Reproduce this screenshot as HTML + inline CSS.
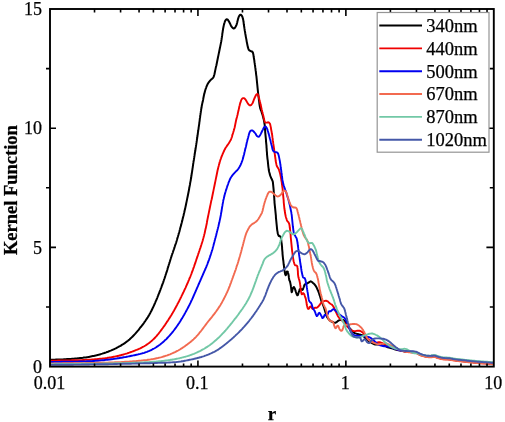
<!DOCTYPE html>
<html><head><meta charset="utf-8"><title>Kernel Function</title>
<style>
html,body{margin:0;padding:0;background:#fff;}
body{width:505px;height:422px;overflow:hidden;}
svg{display:block;}
text{font-family:"Liberation Serif","Times New Roman",serif;fill:#000;stroke:#000;stroke-width:0.25px;}
</style></head><body>
<svg width="505" height="422" viewBox="0 0 505 422">
<rect x="0" y="0" width="505" height="422" fill="#fff"/>
<defs><clipPath id="cp"><rect x="50.0" y="9.0" width="443.8" height="357.6"/></clipPath></defs>
<g clip-path="url(#cp)" fill="none" stroke-linejoin="round" stroke-linecap="round">
<path d="M50.0,359.8 51.0,359.8 52.0,359.7 53.0,359.7 54.0,359.7 55.0,359.7 56.0,359.6 57.0,359.6 58.0,359.6 59.0,359.5 60.0,359.5 61.0,359.4 62.0,359.4 63.0,359.4 64.0,359.3 65.0,359.3 66.0,359.2 67.0,359.1 68.0,359.1 69.0,359.0 70.0,359.0 71.0,358.9 72.0,358.8 73.0,358.7 74.0,358.7 75.0,358.6 76.0,358.5 77.0,358.4 77.9,358.3 78.9,358.2 79.9,358.1 80.9,358.0 81.9,357.9 82.9,357.8 83.9,357.6 84.9,357.5 85.9,357.4 86.9,357.2 87.9,357.1 88.8,356.9 89.8,356.7 90.8,356.5 91.8,356.3 92.8,356.1 93.7,355.9 94.7,355.7 95.7,355.5 96.6,355.3 97.6,355.0 98.6,354.8 99.5,354.5 100.5,354.2 101.4,353.9 102.4,353.6 103.3,353.3 104.3,353.0 105.2,352.7 106.2,352.4 107.1,352.0 108.0,351.7 109.0,351.3 109.9,350.9 110.8,350.6 111.7,350.2 112.6,349.8 113.6,349.4 114.5,349.0 115.4,348.5 116.3,348.1 117.1,347.6 118.0,347.2 118.9,346.7 119.8,346.2 120.6,345.8 121.5,345.2 122.3,344.7 123.2,344.2 124.0,343.7 124.8,343.1 125.6,342.5 126.4,341.9 127.2,341.3 128.0,340.7 128.7,340.1 129.5,339.5 130.2,338.8 131.0,338.1 131.7,337.4 132.4,336.7 133.1,336.0 133.8,335.3 134.4,334.6 135.1,333.9 135.8,333.1 136.4,332.4 137.1,331.6 137.7,330.9 138.4,330.1 139.0,329.3 139.6,328.5 140.2,327.7 140.8,327.0 141.5,326.2 142.1,325.4 142.7,324.6 143.3,323.8 143.9,323.0 144.4,322.2 145.0,321.4 145.6,320.5 146.1,319.7 146.7,318.9 147.2,318.1 147.8,317.2 148.3,316.4 148.8,315.5 149.3,314.7 149.8,313.8 150.3,312.9 150.7,312.1 151.2,311.2 151.7,310.3 152.1,309.4 152.5,308.5 153.0,307.6 153.4,306.7 153.8,305.8 154.2,304.9 154.6,304.0 155.0,303.1 155.4,302.1 155.8,301.2 156.2,300.3 156.6,299.4 157.0,298.5 157.4,297.5 157.7,296.6 158.1,295.7 158.5,294.7 158.8,293.8 159.2,292.9 159.6,292.0 159.9,291.0 160.3,290.1 160.6,289.2 161.0,288.2 161.4,287.3 161.7,286.3 162.0,285.4 162.4,284.5 162.7,283.5 163.1,282.6 163.4,281.6 163.7,280.7 164.0,279.7 164.4,278.8 164.7,277.9 165.0,276.9 165.3,276.0 165.6,275.0 165.9,274.1 166.2,273.1 166.6,272.2 166.9,271.2 167.2,270.2 167.5,269.3 167.7,268.3 168.0,267.4 168.3,266.4 168.6,265.5 168.9,264.5 169.2,263.6 169.5,262.6 169.8,261.7 170.1,260.7 170.4,259.7 170.7,258.8 171.0,257.8 171.3,256.9 171.6,255.9 171.9,255.0 172.2,254.0 172.6,253.1 172.9,252.2 173.2,251.2 173.5,250.3 173.9,249.3 174.2,248.4 174.5,247.4 174.8,246.5 175.1,245.5 175.4,244.6 175.8,243.6 176.1,242.7 176.4,241.7 176.7,240.8 177.0,239.8 177.2,238.9 177.5,237.9 177.8,237.0 178.1,236.0 178.4,235.0 178.6,234.1 178.9,233.1 179.2,232.2 179.5,231.2 179.7,230.2 180.0,229.3 180.2,228.3 180.5,227.3 180.8,226.4 181.0,225.4 181.3,224.4 181.5,223.5 181.8,222.5 182.0,221.5 182.3,220.6 182.5,219.6 182.7,218.6 183.0,217.6 183.2,216.7 183.5,215.7 183.7,214.7 183.9,213.8 184.2,212.8 184.4,211.8 184.6,210.8 184.8,209.9 185.1,208.9 185.3,207.9 185.5,206.9 185.7,206.0 185.9,205.0 186.1,204.0 186.3,203.0 186.5,202.1 186.7,201.1 186.9,200.1 187.1,199.1 187.3,198.1 187.5,197.2 187.7,196.2 187.9,195.2 188.1,194.2 188.3,193.2 188.5,192.2 188.7,191.3 188.9,190.3 189.1,189.3 189.2,188.3 189.4,187.3 189.6,186.4 189.8,185.4 190.0,184.4 190.1,183.4 190.3,182.4 190.5,181.4 190.7,180.5 190.8,179.5 191.0,178.5 191.2,177.5 191.3,176.5 191.5,175.5 191.6,174.5 191.8,173.5 191.9,172.6 192.1,171.6 192.2,170.6 192.4,169.6 192.5,168.6 192.7,167.6 192.8,166.6 193.0,165.6 193.1,164.6 193.2,163.7 193.4,162.7 193.5,161.7 193.7,160.7 193.9,159.7 194.0,158.7 194.2,157.7 194.3,156.7 194.5,155.7 194.6,154.8 194.8,153.8 194.9,152.8 195.1,151.8 195.3,150.8 195.4,149.8 195.6,148.8 195.7,147.9 195.9,146.9 196.0,145.9 196.2,144.9 196.3,143.9 196.5,142.9 196.6,141.9 196.8,140.9 196.9,139.9 197.0,139.0 197.2,138.0 197.3,137.0 197.5,136.0 197.6,135.0 197.8,134.0 197.9,133.0 198.0,132.0 198.2,131.0 198.3,130.0 198.5,129.1 198.6,128.1 198.7,127.1 198.9,126.1 199.0,125.1 199.2,124.1 199.3,123.1 199.4,122.1 199.6,121.1 199.7,120.1 199.8,119.1 199.9,118.2 200.1,117.2 200.2,116.2 200.3,115.2 200.5,114.2 200.6,113.2 200.8,112.2 200.9,111.2 201.1,110.2 201.2,109.2 201.4,108.3 201.6,107.3 201.7,106.3 201.9,105.3 202.1,104.3 202.3,103.4 202.5,102.4 202.8,101.4 203.0,100.4 203.2,99.4 203.3,98.5 203.5,97.5 203.7,96.5 203.9,95.5 204.1,94.5 204.4,93.6 204.6,92.6 204.9,91.6 205.1,90.7 205.4,89.7 205.7,88.8 206.1,87.8 206.4,86.9 206.8,86.0 207.2,85.0 207.6,84.1 208.1,83.3 208.7,82.4 209.3,81.6 209.9,80.8 210.6,80.1 211.3,79.4 212.1,78.8 212.8,78.1 213.4,77.3 213.8,76.4 214.1,75.4 214.4,74.5 214.6,73.5 214.8,72.5 215.0,71.5 215.2,70.5 215.4,69.6 215.6,68.6 215.8,67.6 216.0,66.6 216.3,65.7 216.5,64.7 216.7,63.7 216.9,62.7 217.1,61.7 217.3,60.8 217.5,59.8 217.7,58.8 217.9,57.8 218.1,56.8 218.3,55.9 218.5,54.9 218.7,53.9 218.9,52.9 219.1,52.0 219.3,51.0 219.5,50.0 219.7,49.0 219.9,48.0 220.1,47.1 220.3,46.1 220.5,45.1 220.7,44.1 220.9,43.1 221.1,42.1 221.3,41.2 221.4,40.2 221.6,39.2 221.7,38.2 221.9,37.2 222.0,36.2 222.2,35.2 222.3,34.2 222.4,33.2 222.6,32.3 222.7,31.3 222.9,30.3 223.0,29.3 223.2,28.3 223.4,27.3 223.6,26.3 223.8,25.4 224.0,24.4 224.3,23.4 224.6,22.5 224.9,21.5 225.3,20.6 225.9,19.8 226.6,19.2 227.5,19.4 228.1,20.2 228.7,21.1 229.2,21.9 229.6,22.8 230.1,23.7 230.5,24.6 230.9,25.5 231.4,26.4 232.0,27.2 232.7,27.9 233.5,28.5 234.4,28.3 235.1,27.5 235.6,26.7 236.1,25.8 236.5,24.9 236.8,23.9 237.1,23.0 237.3,22.0 237.5,21.0 237.8,20.1 238.0,19.1 238.3,18.1 238.6,17.2 239.0,16.3 239.5,15.4 240.2,14.7 241.1,14.8 241.7,15.6 242.2,16.5 242.6,17.4 242.8,18.4 243.1,19.4 243.3,20.3 243.4,21.3 243.6,22.3 243.7,23.3 243.8,24.3 244.0,25.3 244.1,26.3 244.3,27.3 244.4,28.2 244.6,29.2 244.7,30.2 244.9,31.2 245.1,32.2 245.2,33.2 245.4,34.2 245.6,35.2 245.7,36.1 245.9,37.1 246.1,38.1 246.3,39.1 246.5,40.1 246.6,41.1 246.8,42.0 247.0,43.0 247.2,44.0 247.4,45.0 247.6,46.0 247.8,46.9 248.1,47.9 248.4,48.9 248.8,49.8 249.5,50.5 250.4,50.9 251.3,51.4 252.2,51.6 252.8,52.4 253.1,53.4 253.3,54.3 253.5,55.3 253.6,56.3 253.8,57.3 253.9,58.3 254.1,59.3 254.3,60.3 254.4,61.3 254.5,62.2 254.7,63.2 254.8,64.2 255.0,65.2 255.1,66.2 255.2,67.2 255.4,68.2 255.5,69.2 255.6,70.2 255.8,71.2 255.9,72.2 256.0,73.1 256.1,74.1 256.2,75.1 256.4,76.1 256.5,77.1 256.6,78.1 256.7,79.1 256.8,80.1 256.9,81.1 257.0,82.1 257.1,83.1 257.2,84.1 257.3,85.1 257.4,86.1 257.5,87.1 257.6,88.1 257.7,89.1 257.8,90.1 257.9,91.0 258.0,92.0 258.1,93.0 258.2,94.0 258.3,95.0 258.5,96.0 258.6,97.0 258.7,98.0 258.8,99.0 258.9,100.0 259.1,101.0 259.2,102.0 259.3,103.0 259.4,104.0 259.6,104.9 259.7,105.9 259.9,106.9 260.1,107.9 260.4,108.9 260.7,109.8 261.1,110.7 261.5,111.6 261.8,112.6 262.1,113.6 262.4,114.5 262.7,115.5 262.9,116.4 263.2,117.4 263.4,118.4 263.7,119.3 263.9,120.3 264.1,121.3 264.3,122.3 264.4,123.3 264.6,124.3 264.7,125.2 264.8,126.2 264.9,127.2 264.9,128.2 265.0,129.2 265.1,130.2 265.2,131.2 265.2,132.2 265.3,133.2 265.4,134.2 265.5,135.2 265.6,136.2 265.7,137.2 265.8,138.2 265.9,139.2 266.0,140.2 266.0,141.2 266.1,142.2 266.2,143.2 266.3,144.2 266.4,145.2 266.5,146.2 266.5,147.2 266.6,148.2 266.7,149.2 266.7,150.2 266.8,151.2 266.9,152.2 267.0,153.2 267.0,154.2 267.1,155.1 267.2,156.1 267.3,157.1 267.4,158.1 267.5,159.1 267.7,160.1 267.8,161.1 267.9,162.1 268.0,163.1 268.1,164.1 268.2,165.1 268.3,166.1 268.4,167.1 268.6,168.1 268.7,169.1 268.8,170.0 269.0,171.0 269.2,172.0 269.5,173.0 269.7,173.9 270.0,174.9 270.3,175.9 270.7,176.8 271.0,177.7 271.4,178.6 271.9,179.5 272.3,180.4 272.7,181.4 272.9,182.3 273.0,183.3 273.1,184.3 273.2,185.3 273.3,186.3 273.4,187.3 273.5,188.3 273.6,189.3 273.7,190.3 273.7,191.3 273.8,192.3 273.9,193.3 274.0,194.3 274.1,195.3 274.1,196.3 274.2,197.3 274.3,198.3 274.3,199.3 274.4,200.3 274.5,201.3 274.5,202.3 274.6,203.3 274.7,204.3 274.8,205.3 274.9,206.2 275.0,207.2 275.1,208.2 275.2,209.2 275.3,210.2 275.4,211.2 275.5,212.2 275.6,213.2 275.7,214.2 275.8,215.2 275.9,216.2 275.9,217.2 276.0,218.2 276.1,219.2 276.2,220.2 276.3,221.2 276.4,222.2 276.5,223.2 276.6,224.2 276.7,225.2 276.8,226.2 276.9,227.2 277.0,228.1 277.1,229.1 277.2,230.1 277.4,231.1 277.6,232.1 277.7,233.1 278.0,234.1 278.3,235.0 278.8,235.9 279.7,236.1 280.5,236.7 280.8,237.7 281.0,238.6 281.2,239.6 281.3,240.6 281.4,241.6 281.5,242.6 281.7,243.6 281.8,244.6 281.9,245.6 282.0,246.6 282.1,247.6 282.1,248.6 282.2,249.6 282.3,250.6 282.4,251.6 282.5,252.6 282.5,253.6 282.6,254.6 282.7,255.6 282.8,256.6 282.9,257.5 283.0,258.5 283.1,259.5 283.3,260.5 283.4,261.5 283.5,262.5 283.6,263.5 283.7,264.5 283.9,265.5 284.0,266.5 284.1,267.5 284.3,268.5 284.4,269.5 284.5,270.4 284.7,271.4 284.8,272.4 285.0,273.4 285.2,274.4 285.7,275.2 286.2,274.4 286.4,273.4 286.6,272.4 286.9,271.5 287.8,271.8 288.0,272.8 288.3,273.7 288.5,274.7 288.7,275.7 288.8,276.7 288.9,277.7 289.1,278.7 289.2,279.6 289.5,280.6 290.0,281.5 290.2,282.5 290.4,283.4 290.6,284.4 290.8,285.4 290.9,286.4 291.1,287.4 291.2,288.4 291.3,289.4 291.4,290.4 291.5,291.4 291.7,292.3 292.1,291.5 292.3,290.5 292.5,289.5 292.8,288.6 293.2,287.7 293.9,287.0 294.4,287.8 294.8,288.7 295.2,289.7 295.5,290.6 295.8,291.6 296.1,292.5 296.4,293.5 296.8,294.4 297.3,295.3 298.0,294.9 298.2,294.0 298.5,293.0 298.8,292.0 299.1,291.1 299.4,290.1 299.8,289.2 300.7,288.9 301.6,289.2 302.2,290.0 302.9,289.4 303.2,288.5 303.6,287.5 303.9,286.6 304.2,285.6 304.6,284.7 305.4,284.2 306.4,284.0 307.3,283.5 308.0,282.9 308.9,282.3 309.7,281.8 310.6,281.3 311.5,281.7 312.3,282.3 313.0,283.0 313.8,283.6 314.5,284.3 315.1,285.1 315.7,285.9 316.2,286.8 316.7,287.7 317.1,288.6 317.5,289.5 317.9,290.4 318.3,291.3 318.6,292.2 319.0,293.2 319.3,294.1 319.6,295.1 319.9,296.0 320.2,297.0 320.5,297.9 320.8,298.9 321.0,299.9 321.3,300.8 321.7,301.8 322.1,302.7 322.5,303.6 322.9,304.5 323.2,305.4 323.6,306.4 323.9,307.3 324.2,308.3 324.5,309.2 324.8,310.2 325.1,311.1 325.4,312.1 325.7,313.1 326.0,314.0 326.3,315.0 326.6,315.9 327.0,316.8 327.5,317.7 328.1,318.5 328.7,319.3 329.4,320.0 330.1,320.7 331.0,321.3 331.9,321.7 332.8,322.0 333.7,322.4 334.7,322.7 335.7,322.7 336.5,322.2 337.3,321.5 338.1,320.9 338.9,320.4 339.9,320.1 340.9,319.9 341.9,319.9 342.8,320.0 343.8,320.3 344.6,320.9 345.3,321.7 345.9,322.5 346.4,323.3 347.0,324.1 347.6,324.9 348.1,325.8 348.6,326.6 349.2,327.5 349.8,328.3 350.4,329.0 351.1,329.8 351.7,330.5 352.4,331.3 353.2,332.0 353.9,332.6 354.8,333.1 355.7,333.4 356.7,333.7 357.7,333.9 358.6,334.2 359.6,334.4 360.6,334.7 361.5,334.9 362.4,335.4 363.3,335.9 364.0,336.7 364.6,337.4 365.2,338.2 365.9,338.9 366.7,339.6 367.5,340.2 368.3,340.8 369.1,341.3 369.9,341.9 370.8,342.4 371.7,342.9 372.5,343.4 373.4,343.8 374.4,344.2 375.3,344.5 376.3,344.6 377.3,344.6 378.3,344.5 379.3,344.5 380.3,344.6 381.3,344.8 382.2,345.1 383.2,345.4 384.2,345.7 385.1,346.0 386.0,346.5 386.9,347.0 387.8,347.2 388.8,347.5 389.8,347.7 390.7,348.0 391.7,348.2 392.7,348.5 393.6,348.8 394.6,349.2 395.5,349.5 396.4,349.8 397.4,350.1 398.4,350.3 399.4,350.2 400.4,350.4 401.3,350.6 402.3,350.9 403.3,351.1 404.2,351.3 405.2,351.5 406.2,351.6 407.2,351.6 408.2,351.7 409.2,351.8 410.2,351.9 411.2,351.9 412.2,352.0 413.2,352.1 414.2,352.2 415.2,352.4 416.2,352.6 417.1,352.9 418.0,353.4 418.8,353.9 419.7,354.3 420.7,354.7 421.6,355.1 422.6,355.4 423.5,355.6 424.5,355.9 425.5,356.1 426.4,356.3 427.4,356.5 428.4,356.6 429.4,356.7 430.4,356.7 431.4,356.6 432.4,356.5 433.4,356.4 434.4,356.4 435.4,356.6 436.3,356.9 437.3,357.3 438.2,357.5 439.2,357.8 440.1,358.1 441.1,358.3 442.1,358.6 443.1,358.7 444.1,358.8 445.1,358.9 446.1,358.9 447.1,358.9 448.1,359.0 449.1,359.1 450.0,359.2 451.0,359.4 452.0,359.5 453.0,359.7 454.0,359.9 455.0,360.1 456.0,360.2 456.9,360.3 457.9,360.5 458.9,360.6 459.9,360.7 460.9,360.8 461.9,360.9 462.9,361.0 463.9,361.1 464.9,361.2 465.9,361.3 466.9,361.4 467.9,361.5 468.9,361.6 469.9,361.7 470.9,361.9 471.9,362.0 472.9,362.1 473.8,362.2 474.8,362.3 475.8,362.3 476.8,362.4 477.8,362.5 478.8,362.6 479.8,362.7 480.8,362.7 481.8,362.8 482.8,362.9 483.8,362.9 484.8,363.0 485.8,363.1 486.8,363.1 487.8,363.2 488.8,363.3 489.8,363.4 490.8,363.5 491.8,363.5 492.8,363.6 493.3,363.7" stroke="#000000" stroke-width="2.0"/>
<path d="M50.0,360.6 51.0,360.6 52.0,360.6 53.0,360.6 54.0,360.6 55.0,360.6 56.0,360.6 57.0,360.6 58.0,360.5 59.0,360.5 60.0,360.5 61.0,360.5 62.0,360.5 63.0,360.5 64.0,360.5 65.0,360.5 66.0,360.5 67.0,360.4 68.0,360.4 69.0,360.4 70.0,360.4 71.0,360.4 72.0,360.3 73.0,360.3 74.0,360.3 75.0,360.3 76.0,360.3 77.0,360.2 78.0,360.2 79.0,360.2 80.0,360.1 81.0,360.1 82.0,360.1 83.0,360.0 84.0,360.0 85.0,359.9 86.0,359.9 87.0,359.8 88.0,359.8 89.0,359.7 90.0,359.7 91.0,359.6 92.0,359.5 93.0,359.5 94.0,359.4 95.0,359.3 96.0,359.2 97.0,359.1 98.0,359.0 98.9,358.9 99.9,358.8 100.9,358.7 101.9,358.6 102.9,358.5 103.9,358.4 104.9,358.3 105.9,358.1 106.9,358.0 107.9,357.8 108.9,357.7 109.8,357.5 110.8,357.4 111.8,357.2 112.8,357.0 113.8,356.8 114.7,356.6 115.7,356.4 116.7,356.2 117.7,356.0 118.6,355.8 119.6,355.5 120.6,355.3 121.5,355.0 122.5,354.7 123.5,354.5 124.4,354.2 125.4,353.9 126.3,353.6 127.3,353.3 128.2,353.0 129.2,352.7 130.1,352.3 131.0,352.0 132.0,351.7 132.9,351.3 133.9,351.0 134.8,350.6 135.7,350.2 136.6,349.9 137.5,349.5 138.5,349.1 139.4,348.7 140.3,348.3 141.2,347.8 142.0,347.4 142.9,346.9 143.8,346.5 144.6,346.0 145.5,345.5 146.3,344.9 147.1,344.4 148.0,343.8 148.7,343.3 149.5,342.7 150.3,342.1 151.1,341.4 151.8,340.8 152.5,340.1 153.3,339.4 154.0,338.8 154.7,338.0 155.3,337.3 156.0,336.6 156.7,335.9 157.3,335.1 157.9,334.3 158.6,333.6 159.2,332.8 159.8,332.0 160.4,331.2 161.0,330.4 161.6,329.6 162.2,328.8 162.8,328.0 163.3,327.2 163.9,326.4 164.5,325.6 165.1,324.7 165.6,323.9 166.2,323.1 166.7,322.3 167.3,321.4 167.9,320.6 168.4,319.8 168.9,318.9 169.5,318.1 170.0,317.2 170.5,316.4 171.1,315.5 171.6,314.7 172.1,313.8 172.6,313.0 173.1,312.1 173.6,311.2 174.1,310.4 174.6,309.5 175.1,308.6 175.6,307.8 176.0,306.9 176.5,306.0 177.0,305.1 177.4,304.2 177.9,303.3 178.4,302.5 178.8,301.6 179.3,300.7 179.7,299.8 180.2,298.9 180.6,298.0 181.1,297.1 181.5,296.2 181.9,295.3 182.4,294.4 182.8,293.5 183.2,292.6 183.7,291.7 184.1,290.8 184.5,289.9 184.9,289.0 185.4,288.1 185.8,287.2 186.2,286.2 186.6,285.3 187.0,284.4 187.4,283.5 187.8,282.6 188.2,281.7 188.6,280.7 189.0,279.8 189.3,278.9 189.7,278.0 190.1,277.1 190.5,276.1 190.8,275.2 191.2,274.3 191.6,273.3 191.9,272.4 192.3,271.5 192.6,270.5 193.0,269.6 193.3,268.6 193.6,267.7 194.0,266.8 194.3,265.8 194.6,264.9 194.9,263.9 195.3,263.0 195.6,262.0 195.9,261.1 196.2,260.1 196.5,259.2 196.9,258.2 197.2,257.3 197.5,256.4 197.8,255.4 198.1,254.5 198.4,253.5 198.8,252.6 199.1,251.6 199.4,250.7 199.7,249.7 200.0,248.8 200.4,247.8 200.7,246.9 201.0,245.9 201.3,245.0 201.6,244.0 201.9,243.1 202.2,242.1 202.5,241.2 202.8,240.2 203.0,239.2 203.3,238.3 203.6,237.3 203.8,236.4 204.1,235.4 204.3,234.4 204.6,233.5 204.8,232.5 205.0,231.5 205.2,230.5 205.4,229.6 205.7,228.6 205.9,227.6 206.1,226.6 206.3,225.6 206.5,224.7 206.7,223.7 206.9,222.7 207.0,221.7 207.2,220.7 207.4,219.8 207.6,218.8 207.8,217.8 208.0,216.8 208.2,215.8 208.4,214.9 208.6,213.9 208.8,212.9 209.0,211.9 209.2,210.9 209.4,210.0 209.6,209.0 209.8,208.0 210.0,207.0 210.2,206.0 210.4,205.1 210.6,204.1 210.8,203.1 211.0,202.1 211.2,201.1 211.4,200.2 211.7,199.2 211.9,198.2 212.1,197.2 212.3,196.3 212.5,195.3 212.7,194.3 212.9,193.3 213.1,192.3 213.3,191.4 213.5,190.4 213.7,189.4 213.9,188.4 214.1,187.4 214.3,186.5 214.5,185.5 214.7,184.5 214.9,183.5 215.1,182.5 215.3,181.6 215.5,180.6 215.7,179.6 215.9,178.6 216.1,177.6 216.3,176.7 216.5,175.7 216.7,174.7 216.9,173.7 217.1,172.8 217.3,171.8 217.5,170.8 217.7,169.8 218.0,168.9 218.2,167.9 218.4,166.9 218.7,165.9 218.9,165.0 219.2,164.0 219.5,163.1 219.7,162.1 220.0,161.2 220.3,160.2 220.6,159.3 221.0,158.3 221.3,157.4 221.6,156.5 222.0,155.6 222.4,154.7 222.8,153.7 223.2,152.8 223.6,151.9 224.0,151.0 224.4,150.1 224.9,149.3 225.3,148.4 225.8,147.5 226.4,146.7 226.9,145.9 227.5,145.1 228.1,144.3 228.6,143.5 229.2,142.6 229.7,141.8 230.2,140.9 230.7,140.0 231.1,139.1 231.4,138.2 231.8,137.3 232.1,136.3 232.3,135.3 232.6,134.4 232.9,133.4 233.2,132.5 233.5,131.5 233.8,130.6 234.1,129.6 234.3,128.6 234.6,127.7 234.8,126.7 235.0,125.7 235.2,124.7 235.4,123.7 235.6,122.8 235.8,121.8 236.0,120.8 236.2,119.8 236.5,118.9 236.7,117.9 237.0,116.9 237.2,116.0 237.5,115.0 237.7,114.0 237.9,113.0 238.1,112.1 238.4,111.1 238.6,110.1 238.8,109.1 239.0,108.2 239.2,107.2 239.4,106.2 239.7,105.2 239.9,104.3 240.2,103.3 240.5,102.4 240.8,101.4 241.1,100.5 241.5,99.5 242.1,98.7 242.8,98.1 243.8,98.1 244.7,98.6 245.3,99.3 245.9,100.1 246.4,101.0 246.9,101.9 247.4,102.8 248.0,103.6 248.6,104.4 249.3,105.1 250.1,105.5 251.0,105.1 251.7,104.3 252.3,103.5 252.8,102.7 253.2,101.7 253.5,100.8 253.8,99.9 254.2,98.9 254.6,98.0 255.0,97.1 255.4,96.2 255.9,95.3 256.4,94.5 257.2,93.9 257.9,94.5 258.2,95.4 258.5,96.4 258.8,97.4 259.1,98.3 259.3,99.3 259.6,100.3 259.8,101.2 260.1,102.2 260.3,103.2 260.5,104.2 260.7,105.1 261.0,106.1 261.2,107.1 261.4,108.1 261.6,109.0 261.8,110.0 262.1,111.0 262.3,112.0 262.6,112.9 262.8,113.9 263.1,114.9 263.3,115.8 263.5,116.8 263.7,117.8 264.0,118.7 264.2,119.7 264.5,120.7 264.8,121.6 265.3,122.5 266.3,122.6 267.3,122.5 268.3,122.3 269.2,122.7 269.8,123.5 270.2,124.4 270.4,125.4 270.6,126.4 270.8,127.3 271.0,128.3 271.1,129.3 271.3,130.3 271.5,131.3 271.7,132.3 271.8,133.3 272.0,134.2 272.2,135.2 272.3,136.2 272.4,137.2 272.6,138.2 272.7,139.2 272.8,140.2 273.0,141.2 273.1,142.2 273.2,143.2 273.4,144.1 273.5,145.1 273.7,146.1 273.8,147.1 274.0,148.1 274.1,149.1 274.2,150.1 274.4,151.1 274.5,152.1 274.6,153.1 274.8,154.1 274.9,155.0 275.0,156.0 275.2,157.0 275.3,158.0 275.5,159.0 275.6,160.0 275.7,161.0 275.9,162.0 276.1,163.0 276.3,163.9 276.5,164.9 276.8,165.9 277.2,166.8 277.8,167.6 278.3,168.5 278.8,169.3 279.1,170.3 279.4,171.2 279.7,172.2 280.0,173.2 280.2,174.1 280.4,175.1 280.6,176.1 280.8,177.1 281.0,178.0 281.2,179.0 281.3,180.0 281.5,181.0 281.7,182.0 281.8,183.0 281.9,184.0 282.1,185.0 282.2,185.9 282.3,186.9 282.5,187.9 282.6,188.9 282.7,189.9 282.7,190.9 282.8,191.9 282.9,192.9 283.0,193.9 283.1,194.9 283.2,195.9 283.3,196.9 283.4,197.9 283.5,198.9 283.6,199.9 283.7,200.9 283.7,201.9 283.8,202.9 283.9,203.9 284.0,204.9 284.1,205.9 284.2,206.9 284.3,207.8 284.4,208.8 284.6,209.8 284.7,210.8 284.9,211.8 285.0,212.8 285.2,213.8 285.4,214.8 285.6,215.7 285.8,216.7 286.1,217.7 286.4,218.6 286.7,219.6 287.0,220.5 287.6,221.4 288.3,222.1 288.8,222.9 289.2,223.8 289.4,224.8 289.6,225.8 289.7,226.8 289.8,227.8 290.0,228.8 290.1,229.8 290.2,230.8 290.3,231.7 290.4,232.7 290.5,233.7 290.6,234.7 290.7,235.7 290.7,236.7 290.8,237.7 290.9,238.7 291.0,239.7 291.1,240.7 291.2,241.7 291.3,242.7 291.4,243.7 291.5,244.7 291.6,245.7 291.7,246.7 291.8,247.7 291.9,248.7 292.0,249.7 292.1,250.7 292.2,251.6 292.4,252.6 292.5,253.6 292.6,254.6 292.7,255.6 292.9,256.6 293.0,257.6 293.2,258.6 293.4,259.6 293.5,260.6 293.7,261.5 294.0,262.5 294.3,263.5 294.6,264.4 295.1,265.2 296.1,265.4 297.0,265.8 297.4,266.7 297.5,267.7 297.7,268.7 297.7,269.7 297.8,270.7 297.9,271.7 297.9,272.7 298.0,273.7 298.0,274.7 298.2,275.6 298.3,276.6 298.5,277.6 298.8,278.6 299.1,279.5 299.4,280.5 299.6,281.4 299.8,282.4 300.0,283.4 300.1,284.4 300.3,285.4 300.4,286.4 300.5,287.4 300.6,288.4 300.7,289.4 300.9,290.4 301.0,291.4 301.2,292.3 301.4,293.3 301.7,294.3 302.6,293.8 303.2,293.1 303.9,293.7 304.4,294.6 304.7,295.6 305.0,296.5 305.3,297.5 305.7,298.4 305.9,299.4 306.1,300.4 306.3,301.3 306.4,302.3 306.6,303.3 306.7,304.3 306.9,305.3 307.2,306.3 307.4,307.2 307.7,308.2 308.2,309.0 309.0,308.6 309.4,307.7 309.9,306.8 310.7,306.4 311.3,307.1 311.8,308.0 312.4,308.8 313.2,309.0 314.0,308.3 314.8,307.7 315.7,307.7 316.7,307.8 317.6,307.2 318.3,306.5 318.9,305.8 319.6,305.0 320.1,304.2 320.7,303.3 321.3,302.6 322.2,302.0 323.1,301.6 324.0,301.2 324.9,300.9 325.9,300.8 326.9,301.0 327.8,301.4 328.5,302.1 329.2,302.8 330.0,303.5 330.8,304.0 331.7,304.5 332.4,305.2 333.0,306.0 333.5,306.8 334.0,307.7 334.4,308.6 334.8,309.6 335.2,310.5 335.6,311.4 336.1,312.3 336.5,313.2 336.9,314.1 337.4,315.0 337.8,315.9 338.3,316.7 338.9,317.5 339.6,318.3 340.3,319.0 341.0,319.6 341.8,320.3 342.5,321.0 343.2,321.7 343.9,322.4 344.6,323.1 345.3,323.9 345.9,324.6 346.5,325.4 347.1,326.2 347.8,327.0 348.4,327.7 349.2,328.4 349.9,329.1 350.7,329.7 351.5,330.3 352.4,330.7 353.4,331.0 354.4,331.1 355.4,331.1 356.4,330.9 357.4,330.7 358.3,330.6 359.3,330.7 360.3,331.0 361.2,331.4 362.0,332.0 362.8,332.6 363.5,333.3 364.1,334.1 364.7,334.9 365.3,335.7 365.9,336.5 366.6,337.3 367.2,338.0 367.9,338.7 368.7,339.4 369.5,340.0 370.3,340.6 371.1,341.1 372.0,341.6 372.9,342.1 373.8,342.4 374.8,342.7 375.7,342.8 376.7,342.7 377.7,342.4 378.7,342.2 379.7,342.3 380.6,342.5 381.6,342.8 382.5,343.2 383.4,343.6 384.4,343.9 385.3,344.3 386.2,344.6 387.2,345.0 388.1,345.3 389.0,345.7 390.0,346.1 390.8,346.6 391.7,347.0 392.6,347.5 393.5,348.0 394.4,348.4 395.3,348.8 396.3,349.1 397.2,349.5 398.2,349.8 399.1,350.1 400.1,350.4 401.0,350.7 402.0,350.9 403.0,351.2 403.9,351.4 404.9,351.6 405.9,351.7 406.9,351.9 407.9,352.0 408.9,352.0 409.9,352.1 410.9,352.3 411.9,352.4 412.9,352.5 413.9,352.6 414.8,352.7 415.8,352.9 416.8,353.2 417.7,353.6 418.6,354.1 419.4,354.6 420.3,355.0 421.3,355.3 422.2,355.7 423.2,355.9 424.2,356.2 425.1,356.5 426.1,356.7 427.1,356.8 428.1,357.0 429.1,357.1 430.1,357.1 431.1,357.0 432.1,356.9 433.1,356.8 434.1,356.8 435.0,356.9 436.0,357.2 436.9,357.5 437.9,357.9 438.8,358.1 439.8,358.4 440.8,358.7 441.7,358.9 442.7,359.1 443.7,359.2 444.7,359.3 445.7,359.3 446.7,359.3 447.7,359.4 448.7,359.5 449.7,359.6 450.7,359.7 451.7,359.9 452.7,360.1 453.6,360.2 454.6,360.4 455.6,360.6 456.6,360.7 457.6,360.8 458.6,360.9 459.6,361.0 460.6,361.1 461.6,361.2 462.6,361.3 463.6,361.5 464.6,361.6 465.6,361.7 466.5,361.8 467.5,361.9 468.5,362.0 469.5,362.1 470.5,362.2 471.5,362.3 472.5,362.4 473.5,362.5 474.5,362.6 475.5,362.7 476.5,362.8 477.5,362.9 478.5,363.0 479.5,363.0 480.5,363.1 481.5,363.2 482.5,363.3 483.5,363.3 484.5,363.4 485.5,363.5 486.5,363.5 487.5,363.6 488.5,363.7 489.5,363.7 490.5,363.8 491.5,363.9 492.4,364.0 493.4,364.1 493.4,364.1" stroke="#f00000" stroke-width="1.9"/>
<path d="M50.0,362.0 51.0,362.0 52.0,362.0 53.0,362.0 54.0,361.9 55.0,361.9 56.0,361.9 57.0,361.9 58.0,361.9 59.0,361.9 60.0,361.9 61.0,361.8 62.0,361.8 63.0,361.8 64.0,361.8 65.0,361.8 66.0,361.8 67.0,361.8 68.0,361.7 69.0,361.7 70.0,361.7 71.0,361.7 72.0,361.7 73.0,361.7 74.0,361.6 75.0,361.6 76.0,361.6 77.0,361.6 78.0,361.6 79.0,361.5 80.0,361.5 81.0,361.5 82.0,361.5 83.0,361.4 84.0,361.4 85.0,361.4 86.0,361.4 87.0,361.3 88.0,361.3 89.0,361.2 90.0,361.2 91.0,361.1 92.0,361.1 93.0,361.0 94.0,361.0 95.0,360.9 96.0,360.8 97.0,360.8 98.0,360.7 99.0,360.6 100.0,360.5 101.0,360.4 102.0,360.3 102.9,360.3 103.9,360.2 104.9,360.0 105.9,359.9 106.9,359.8 107.9,359.7 108.9,359.6 109.9,359.5 110.9,359.3 111.9,359.2 112.9,359.1 113.9,358.9 114.8,358.8 115.8,358.6 116.8,358.5 117.8,358.3 118.8,358.2 119.8,358.0 120.8,357.8 121.8,357.7 122.7,357.5 123.7,357.3 124.7,357.1 125.7,357.0 126.7,356.8 127.7,356.6 128.6,356.4 129.6,356.2 130.6,356.0 131.6,355.8 132.6,355.6 133.5,355.4 134.5,355.2 135.5,355.0 136.5,354.8 137.4,354.6 138.4,354.3 139.4,354.1 140.3,353.9 141.3,353.6 142.3,353.3 143.2,353.1 144.2,352.8 145.1,352.5 146.0,352.1 147.0,351.8 147.9,351.4 148.8,351.1 149.7,350.7 150.6,350.3 151.5,349.8 152.4,349.4 153.2,348.9 154.1,348.5 155.0,348.0 155.8,347.5 156.6,346.9 157.5,346.4 158.3,345.8 159.1,345.2 159.9,344.7 160.7,344.1 161.4,343.4 162.2,342.8 162.9,342.2 163.7,341.5 164.4,340.8 165.1,340.1 165.9,339.5 166.6,338.8 167.3,338.0 167.9,337.3 168.6,336.6 169.3,335.9 170.0,335.1 170.6,334.4 171.3,333.6 171.9,332.9 172.5,332.1 173.2,331.3 173.8,330.5 174.4,329.7 175.0,328.9 175.6,328.1 176.2,327.3 176.7,326.5 177.3,325.7 177.9,324.9 178.4,324.0 179.0,323.2 179.5,322.4 180.1,321.5 180.6,320.7 181.1,319.8 181.6,319.0 182.2,318.1 182.7,317.3 183.2,316.4 183.7,315.5 184.2,314.7 184.7,313.8 185.2,312.9 185.6,312.1 186.1,311.2 186.6,310.3 187.1,309.4 187.5,308.6 188.0,307.7 188.5,306.8 188.9,305.9 189.4,305.0 189.8,304.1 190.3,303.2 190.7,302.3 191.1,301.4 191.5,300.5 192.0,299.6 192.4,298.7 192.8,297.8 193.2,296.9 193.6,296.0 194.0,295.0 194.4,294.1 194.8,293.2 195.2,292.3 195.6,291.4 196.0,290.5 196.4,289.5 196.8,288.6 197.2,287.7 197.6,286.8 198.0,285.9 198.4,284.9 198.8,284.0 199.2,283.1 199.6,282.2 200.0,281.3 200.4,280.4 200.8,279.5 201.2,278.5 201.6,277.6 202.0,276.7 202.4,275.8 202.8,274.9 203.2,274.0 203.6,273.0 204.0,272.1 204.4,271.2 204.8,270.3 205.2,269.4 205.6,268.5 206.0,267.5 206.4,266.6 206.7,265.7 207.1,264.8 207.5,263.8 207.8,262.9 208.2,262.0 208.5,261.0 208.9,260.1 209.2,259.2 209.6,258.2 209.9,257.3 210.2,256.3 210.5,255.4 210.8,254.4 211.1,253.5 211.4,252.5 211.7,251.6 212.0,250.6 212.3,249.7 212.6,248.7 212.8,247.7 213.1,246.8 213.4,245.8 213.6,244.8 213.9,243.9 214.1,242.9 214.4,241.9 214.6,241.0 214.9,240.0 215.1,239.0 215.4,238.1 215.7,237.1 215.9,236.1 216.2,235.2 216.4,234.2 216.6,233.2 216.9,232.3 217.1,231.3 217.4,230.3 217.6,229.4 217.9,228.4 218.1,227.4 218.4,226.4 218.6,225.5 218.8,224.5 219.0,223.5 219.3,222.6 219.5,221.6 219.7,220.6 219.9,219.6 220.1,218.7 220.3,217.7 220.5,216.7 220.7,215.7 220.9,214.7 221.0,213.7 221.2,212.8 221.4,211.8 221.6,210.8 221.7,209.8 221.9,208.8 222.0,207.8 222.2,206.8 222.4,205.9 222.5,204.9 222.7,203.9 222.9,202.9 223.1,201.9 223.2,200.9 223.4,200.0 223.7,199.0 223.9,198.0 224.1,197.0 224.4,196.1 224.6,195.1 224.9,194.1 225.1,193.2 225.4,192.2 225.7,191.3 226.0,190.3 226.3,189.4 226.6,188.4 226.9,187.5 227.2,186.5 227.5,185.6 227.9,184.6 228.2,183.7 228.5,182.7 228.9,181.8 229.3,180.9 229.7,179.9 230.1,179.0 230.5,178.2 231.0,177.3 231.6,176.5 232.2,175.6 232.8,174.8 233.4,174.1 234.1,173.3 234.8,172.6 235.5,171.9 236.2,171.2 236.9,170.5 237.6,169.8 238.2,169.0 238.8,168.1 239.3,167.3 239.8,166.4 240.3,165.6 240.7,164.7 241.1,163.7 241.5,162.8 241.8,161.9 242.2,160.9 242.5,160.0 242.8,159.0 243.1,158.1 243.3,157.1 243.6,156.1 243.8,155.2 244.1,154.2 244.3,153.2 244.5,152.2 244.8,151.3 245.0,150.3 245.2,149.3 245.5,148.4 245.7,147.4 246.0,146.4 246.2,145.5 246.4,144.5 246.6,143.5 246.8,142.5 247.1,141.5 247.3,140.6 247.6,139.6 247.8,138.6 248.1,137.7 248.3,136.7 248.6,135.7 248.8,134.8 249.1,133.8 249.4,132.9 249.8,131.9 250.3,131.1 251.1,130.5 252.1,130.4 253.0,130.9 253.7,131.5 254.4,132.3 255.0,133.0 255.6,133.8 256.1,134.7 256.6,135.6 257.3,136.3 258.1,136.8 259.1,136.6 259.7,135.8 260.2,135.0 260.7,134.1 261.1,133.2 261.6,132.3 262.0,131.4 262.4,130.5 262.9,129.6 263.3,128.7 263.8,127.8 264.3,127.0 265.1,126.4 266.0,126.9 266.6,127.7 267.0,128.6 267.4,129.5 267.7,130.5 268.0,131.4 268.3,132.4 268.5,133.4 268.8,134.3 269.1,135.3 269.3,136.2 269.6,137.2 269.8,138.2 270.1,139.1 270.3,140.1 270.6,141.1 270.8,142.1 271.0,143.0 271.3,144.0 271.5,145.0 271.8,145.9 272.0,146.9 272.2,147.9 272.4,148.9 272.7,149.8 273.1,150.7 273.8,151.5 274.7,151.9 275.6,152.2 276.6,152.3 277.5,152.7 278.1,153.6 278.4,154.5 278.7,155.5 278.9,156.4 279.1,157.4 279.3,158.4 279.5,159.4 279.7,160.4 279.9,161.3 280.0,162.3 280.2,163.3 280.3,164.3 280.5,165.3 280.6,166.3 280.7,167.3 280.9,168.3 281.0,169.3 281.2,170.3 281.3,171.2 281.4,172.2 281.6,173.2 281.7,174.2 281.8,175.2 282.0,176.2 282.1,177.2 282.2,178.2 282.3,179.2 282.5,180.2 282.6,181.1 282.8,182.1 283.1,183.1 283.3,184.1 283.6,185.0 283.9,186.0 284.2,186.9 284.5,187.9 284.9,188.8 285.2,189.8 285.5,190.7 285.9,191.6 286.2,192.6 286.5,193.5 286.8,194.5 287.1,195.4 287.4,196.4 287.7,197.4 288.0,198.3 288.3,199.3 288.6,200.2 288.8,201.2 289.1,202.2 289.3,203.1 289.5,204.1 289.8,205.1 290.0,206.1 290.2,207.0 290.4,208.0 290.6,209.0 290.8,210.0 291.0,211.0 291.2,211.9 291.4,212.9 291.5,213.9 291.7,214.9 291.8,215.9 291.9,216.9 292.0,217.9 292.1,218.9 292.2,219.9 292.3,220.9 292.4,221.9 292.5,222.9 292.6,223.9 292.7,224.8 292.8,225.8 292.9,226.8 293.1,227.8 293.2,228.8 293.3,229.8 293.4,230.8 293.6,231.8 293.8,232.8 294.1,233.7 294.5,234.6 295.0,235.5 295.5,236.4 296.0,237.2 296.5,238.1 296.8,239.1 297.0,240.0 297.2,241.0 297.4,242.0 297.5,243.0 297.7,244.0 297.8,245.0 297.9,246.0 298.1,247.0 298.2,248.0 298.3,248.9 298.5,249.9 298.6,250.9 298.7,251.9 298.9,252.9 299.0,253.9 299.1,254.9 299.3,255.9 299.4,256.9 299.6,257.9 299.7,258.9 299.8,259.8 300.0,260.8 300.1,261.8 300.3,262.8 300.4,263.8 300.6,264.8 300.8,265.8 300.9,266.8 301.1,267.7 301.2,268.7 301.4,269.7 301.5,270.7 301.7,271.7 301.9,272.7 302.1,273.7 302.3,274.6 302.5,275.6 302.8,276.6 303.2,277.5 304.1,277.9 304.9,278.4 305.2,279.4 305.5,280.3 305.7,281.3 305.9,282.3 306.1,283.3 306.3,284.3 306.5,285.2 306.7,286.2 306.8,287.2 307.0,288.2 307.1,289.2 307.3,290.2 307.4,291.2 307.6,292.1 307.8,293.1 307.9,294.1 308.1,295.1 308.2,296.1 308.4,297.1 308.5,298.1 308.7,299.1 308.9,300.0 309.2,301.0 309.8,301.8 310.5,302.5 311.2,303.2 311.6,304.1 311.9,305.1 312.2,306.1 312.4,307.0 312.8,307.9 313.3,308.8 313.8,309.7 314.4,310.5 314.8,311.4 315.2,312.3 315.5,313.3 315.8,314.2 316.2,315.1 316.7,316.0 317.4,315.8 317.9,314.9 318.3,314.0 318.7,313.1 319.5,312.8 320.1,313.6 320.6,314.5 321.1,315.4 321.6,316.2 322.0,317.1 322.4,318.0 323.4,317.7 323.8,316.8 324.2,315.9 324.6,315.0 325.5,314.9 326.3,315.5 327.1,315.3 327.6,314.4 328.0,313.5 328.3,312.5 328.8,311.6 329.5,311.1 330.5,311.4 331.3,310.8 332.0,310.1 332.8,309.5 333.7,309.2 334.6,309.6 335.3,310.3 336.1,311.0 336.8,311.7 337.5,312.4 338.2,313.1 338.8,313.9 339.6,314.5 340.4,315.1 341.2,315.7 342.0,316.3 342.9,316.8 343.7,317.3 344.5,317.9 345.1,318.7 345.6,319.6 346.1,320.5 346.5,321.4 346.9,322.3 347.3,323.2 347.7,324.1 348.1,325.1 348.4,326.0 348.8,326.9 349.1,327.9 349.5,328.8 349.8,329.7 350.3,330.6 350.7,331.5 351.3,332.4 351.9,333.2 352.6,333.9 353.3,334.5 354.2,335.0 355.1,335.4 356.1,335.6 357.1,335.7 358.1,335.8 359.1,335.9 360.1,336.0 361.1,336.0 362.1,336.1 363.1,336.1 364.1,336.2 365.1,336.4 366.1,336.5 367.0,336.7 368.0,336.9 369.0,337.2 369.9,337.5 370.8,338.0 371.6,338.6 372.4,339.2 373.1,339.9 373.8,340.6 374.6,341.2 375.3,341.9 376.1,342.6 376.8,343.2 377.6,343.9 378.4,344.5 379.3,344.9 380.2,345.3 381.2,345.6 382.1,345.8 383.1,346.0 384.1,346.2 385.1,346.3 386.1,346.4 387.1,346.5 388.1,346.6 389.1,346.7 390.1,346.9 391.0,347.2 392.0,347.5 392.9,347.9 393.8,348.3 394.7,348.6 395.7,349.0 396.6,349.3 397.5,349.7 398.5,350.0 399.4,350.3 400.4,350.6 401.4,350.8 402.4,350.9 403.4,351.1 404.4,351.2 405.4,351.3 406.4,351.4 407.4,351.4 408.4,351.5 409.3,351.5 410.3,351.6 411.3,351.7 412.3,351.8 413.3,351.9 414.3,352.1 415.3,352.2 416.3,352.4 417.2,352.8 418.1,353.2 419.0,353.7 419.9,354.2 420.8,354.6 421.7,354.9 422.7,355.2 423.6,355.5 424.6,355.7 425.6,356.0 426.6,356.1 427.5,356.3 428.5,356.4 429.5,356.5 430.5,356.5 431.5,356.4 432.5,356.3 433.5,356.2 434.5,356.2 435.5,356.4 436.4,356.7 437.4,357.1 438.3,357.4 439.3,357.7 440.3,357.9 441.2,358.2 442.2,358.4 443.2,358.5 444.2,358.6 445.2,358.7 446.2,358.7 447.2,358.8 448.2,358.8 449.2,358.9 450.2,359.0 451.2,359.2 452.1,359.4 453.1,359.5 454.1,359.7 455.1,359.9 456.1,360.0 457.1,360.2 458.1,360.3 459.1,360.4 460.1,360.5 461.1,360.6 462.0,360.7 463.0,360.8 464.0,360.9 465.0,361.0 466.0,361.1 467.0,361.2 468.0,361.3 469.0,361.4 470.0,361.6 471.0,361.7 472.0,361.8 473.0,361.9 474.0,362.0 475.0,362.1 476.0,362.2 477.0,362.2 478.0,362.3 479.0,362.4 480.0,362.5 481.0,362.5 481.9,362.6 482.9,362.7 483.9,362.8 484.9,362.8 485.9,362.9 486.9,363.0 487.9,363.0 488.9,363.1 489.9,363.2 490.9,363.3 491.9,363.4 492.9,363.4 493.4,363.5" stroke="#0000f0" stroke-width="1.9"/>
<path d="M50.0,363.5 51.0,363.5 52.0,363.5 53.0,363.5 54.0,363.5 55.0,363.4 56.0,363.4 57.0,363.4 58.0,363.4 59.0,363.4 60.0,363.4 61.0,363.4 62.0,363.4 63.0,363.3 64.0,363.3 65.0,363.3 66.0,363.3 67.0,363.3 68.0,363.3 69.0,363.3 70.0,363.3 71.0,363.2 72.0,363.2 73.0,363.2 74.0,363.2 75.0,363.2 76.0,363.2 77.0,363.2 78.0,363.2 79.0,363.1 80.0,363.1 81.0,363.1 82.0,363.1 83.0,363.1 84.0,363.1 85.0,363.1 86.0,363.0 87.0,363.0 88.0,363.0 89.0,363.0 90.0,363.0 91.0,363.0 92.0,362.9 93.0,362.9 94.0,362.9 95.0,362.9 96.0,362.9 97.0,362.8 98.0,362.8 99.0,362.8 100.0,362.8 101.0,362.8 102.0,362.7 103.0,362.7 104.0,362.7 105.0,362.7 106.0,362.6 107.0,362.6 108.0,362.6 109.0,362.5 110.0,362.5 111.0,362.5 112.0,362.4 113.0,362.4 114.0,362.4 115.0,362.3 116.0,362.3 117.0,362.2 118.0,362.2 119.0,362.1 120.0,362.1 121.0,362.1 122.0,362.0 123.0,362.0 124.0,361.9 125.0,361.8 126.0,361.8 127.0,361.7 128.0,361.7 129.0,361.6 130.0,361.5 131.0,361.5 132.0,361.4 133.0,361.3 134.0,361.3 135.0,361.2 135.9,361.1 136.9,361.0 137.9,360.9 138.9,360.8 139.9,360.7 140.9,360.6 141.9,360.5 142.9,360.4 143.9,360.3 144.9,360.2 145.9,360.1 146.9,360.0 147.9,359.8 148.9,359.7 149.8,359.6 150.8,359.4 151.8,359.2 152.8,359.1 153.8,358.9 154.8,358.7 155.7,358.5 156.7,358.3 157.7,358.1 158.7,357.8 159.6,357.6 160.6,357.4 161.6,357.1 162.5,356.8 163.5,356.5 164.4,356.3 165.4,355.9 166.3,355.6 167.3,355.3 168.2,355.0 169.1,354.6 170.1,354.3 171.0,353.9 171.9,353.5 172.8,353.1 173.7,352.7 174.6,352.3 175.5,351.9 176.4,351.4 177.3,350.9 178.2,350.5 179.0,350.0 179.9,349.5 180.7,348.9 181.6,348.4 182.4,347.9 183.3,347.3 184.1,346.8 184.9,346.2 185.7,345.6 186.5,345.0 187.3,344.4 188.1,343.8 188.9,343.2 189.7,342.6 190.5,342.0 191.2,341.3 192.0,340.7 192.7,340.0 193.5,339.4 194.2,338.7 194.9,338.0 195.6,337.3 196.3,336.6 196.9,335.8 197.6,335.1 198.3,334.3 198.9,333.6 199.5,332.8 200.1,332.0 200.8,331.3 201.4,330.5 202.0,329.7 202.6,328.9 203.2,328.1 203.8,327.3 204.4,326.5 205.0,325.7 205.6,324.9 206.2,324.1 206.8,323.3 207.4,322.5 208.0,321.7 208.6,321.0 209.3,320.2 209.9,319.4 210.5,318.6 211.2,317.8 211.8,317.1 212.4,316.3 213.0,315.5 213.7,314.7 214.3,313.9 214.9,313.1 215.5,312.3 216.1,311.5 216.6,310.7 217.2,309.9 217.8,309.1 218.3,308.3 218.9,307.4 219.4,306.6 220.0,305.7 220.5,304.9 221.0,304.0 221.5,303.2 222.0,302.3 222.5,301.4 222.9,300.6 223.4,299.7 223.9,298.8 224.3,297.9 224.8,297.0 225.2,296.1 225.7,295.2 226.1,294.3 226.5,293.4 227.0,292.5 227.4,291.6 227.8,290.7 228.2,289.8 228.6,288.9 228.9,287.9 229.3,287.0 229.7,286.1 230.0,285.2 230.4,284.2 230.7,283.3 231.1,282.3 231.4,281.4 231.7,280.5 232.1,279.5 232.4,278.6 232.8,277.6 233.1,276.7 233.4,275.8 233.8,274.8 234.1,273.9 234.5,272.9 234.8,272.0 235.1,271.1 235.5,270.1 235.8,269.2 236.1,268.2 236.4,267.3 236.7,266.3 237.0,265.4 237.4,264.4 237.7,263.5 238.0,262.5 238.3,261.6 238.6,260.6 238.8,259.7 239.1,258.7 239.4,257.7 239.7,256.8 240.0,255.8 240.2,254.9 240.5,253.9 240.8,252.9 241.1,252.0 241.3,251.0 241.6,250.0 241.8,249.1 242.1,248.1 242.3,247.1 242.6,246.2 242.9,245.2 243.1,244.2 243.4,243.3 243.6,242.3 243.9,241.3 244.1,240.4 244.4,239.4 244.6,238.4 244.9,237.5 245.2,236.5 245.5,235.5 245.8,234.6 246.1,233.7 246.5,232.7 246.9,231.8 247.3,230.9 247.8,230.0 248.2,229.1 248.7,228.2 249.2,227.4 249.7,226.5 250.4,225.8 251.1,225.1 251.8,224.4 252.6,223.8 253.5,223.3 254.4,222.8 255.2,222.3 256.0,221.7 256.7,221.0 257.4,220.3 258.0,219.5 258.6,218.7 259.1,217.8 259.6,217.0 260.1,216.1 260.6,215.2 261.1,214.3 261.6,213.5 262.0,212.6 262.3,211.6 262.6,210.7 262.8,209.7 263.0,208.7 263.3,207.7 263.5,206.8 263.7,205.8 264.0,204.8 264.2,203.9 264.5,202.9 264.8,201.9 265.1,201.0 265.4,200.0 265.7,199.1 266.1,198.1 266.4,197.2 266.8,196.3 267.2,195.4 267.6,194.4 268.0,193.5 268.5,192.7 269.2,191.9 270.1,191.6 271.1,191.7 271.9,192.2 272.7,192.9 273.4,193.5 274.2,194.2 274.9,194.8 275.7,195.5 276.5,196.1 277.4,196.5 278.4,196.4 279.3,195.9 280.1,195.4 280.8,194.7 281.4,193.9 282.0,193.1 282.5,192.2 283.1,191.4 283.8,190.7 284.8,190.7 285.6,191.3 286.2,192.1 286.6,192.9 287.0,193.9 287.2,194.9 287.4,195.8 287.7,196.8 288.0,197.8 288.3,198.7 288.6,199.7 288.9,200.6 289.3,201.5 289.6,202.5 290.0,203.4 290.4,204.3 290.8,205.2 291.4,206.0 292.1,206.7 293.0,207.3 293.9,207.5 294.9,207.5 295.9,207.7 296.6,208.4 297.0,209.3 297.3,210.3 297.5,211.2 297.8,212.2 298.0,213.2 298.3,214.1 298.5,215.1 298.8,216.1 299.0,217.0 299.3,218.0 299.5,219.0 299.7,220.0 300.0,220.9 300.2,221.9 300.4,222.9 300.7,223.9 300.9,224.8 301.1,225.8 301.4,226.8 301.6,227.7 301.9,228.7 302.1,229.7 302.3,230.7 302.6,231.6 302.9,232.6 303.2,233.5 303.5,234.5 303.9,235.4 304.4,236.3 304.8,237.2 305.4,238.0 306.0,238.7 306.7,239.5 307.2,240.4 307.5,241.3 307.8,242.3 308.1,243.2 308.3,244.2 308.5,245.2 308.8,246.1 309.0,247.1 309.2,248.1 309.3,249.1 309.5,250.1 309.7,251.1 309.9,252.0 310.1,253.0 310.3,254.0 310.6,255.0 310.8,255.9 310.9,256.9 311.1,257.9 311.2,258.9 311.4,259.9 311.5,260.9 311.7,261.9 311.8,262.9 312.0,263.8 312.2,264.8 312.4,265.8 312.7,266.8 312.9,267.7 313.2,268.7 313.5,269.6 313.9,270.6 314.4,271.5 315.1,272.2 315.8,272.8 316.3,273.7 316.7,274.6 317.0,275.6 317.3,276.5 317.5,277.5 317.8,278.5 318.0,279.5 318.2,280.4 318.4,281.4 318.5,282.4 318.7,283.4 318.9,284.4 319.1,285.4 319.2,286.3 319.4,287.3 319.6,288.3 319.7,289.3 320.0,290.3 320.2,291.2 320.4,292.2 320.6,293.2 320.9,294.2 321.1,295.1 321.4,296.1 321.7,297.1 321.9,298.0 322.2,299.0 322.4,300.0 322.6,300.9 322.9,301.9 323.1,302.9 323.4,303.8 323.8,304.8 324.2,305.7 324.6,306.6 325.1,307.5 325.5,308.4 325.8,309.3 326.1,310.3 326.4,311.3 326.6,312.2 326.8,313.2 327.1,314.2 327.3,315.1 327.6,316.1 327.9,317.0 328.2,318.0 328.6,318.9 329.0,319.8 329.6,320.6 330.5,321.1 331.5,321.2 332.5,321.5 333.1,322.3 333.5,323.2 333.8,324.1 334.0,325.1 334.4,326.1 334.7,327.0 335.1,327.9 335.8,328.3 336.4,327.4 336.8,326.6 337.4,325.7 338.2,326.0 338.6,326.9 339.0,327.8 339.4,328.8 339.8,329.7 340.5,330.4 341.3,330.9 342.2,330.4 342.6,329.5 342.9,328.5 343.2,327.6 343.5,326.6 344.0,325.8 344.8,325.2 345.8,325.0 346.8,324.8 347.8,324.7 348.8,324.6 349.8,324.5 350.7,324.3 351.7,324.1 352.7,324.0 353.7,324.0 354.7,324.0 355.7,324.1 356.7,324.3 357.6,324.7 358.5,325.3 359.3,325.8 360.0,326.5 360.8,327.2 361.5,327.9 362.1,328.7 362.7,329.5 363.2,330.3 363.7,331.2 364.2,332.0 364.6,332.9 365.1,333.9 365.5,334.8 365.9,335.7 366.4,336.6 366.9,337.4 367.4,338.3 368.0,339.1 368.6,339.8 369.3,340.5 370.1,341.1 371.0,341.6 371.9,342.0 372.9,342.4 373.8,342.8 374.7,343.1 375.7,343.5 376.6,343.8 377.6,344.1 378.5,344.3 379.5,344.2 380.5,344.0 381.5,343.9 382.5,343.7 383.5,343.6 384.5,343.4 385.5,343.4 386.5,343.5 387.4,343.8 388.3,344.2 389.3,344.6 390.2,345.0 391.1,345.5 391.9,345.9 392.8,346.4 393.7,346.9 394.6,347.3 395.5,347.8 396.4,348.2 397.3,348.7 398.2,349.1 399.1,349.5 400.0,349.9 400.9,350.3 401.9,350.7 402.8,351.0 403.7,351.3 404.7,351.6 405.7,351.8 406.7,352.0 407.7,352.1 408.7,352.2 409.6,352.3 410.6,352.4 411.6,352.5 412.6,352.6 413.6,352.8 414.6,352.9 415.6,353.0 416.6,353.3 417.5,353.7 418.3,354.2 419.2,354.7 420.1,355.1 421.1,355.5 422.0,355.8 423.0,356.1 423.9,356.4 424.9,356.6 425.9,356.8 426.8,357.0 427.8,357.1 428.8,357.3 429.8,357.3 430.8,357.3 431.8,357.2 432.8,357.1 433.8,357.0 434.8,357.0 435.8,357.3 436.7,357.7 437.6,358.0 438.6,358.3 439.6,358.5 440.5,358.8 441.5,359.0 442.5,359.2 443.5,359.4 444.5,359.4 445.5,359.5 446.5,359.5 447.5,359.6 448.5,359.6 449.5,359.7 450.5,359.9 451.4,360.0 452.4,360.2 453.4,360.4 454.4,360.6 455.4,360.7 456.4,360.9 457.4,361.0 458.4,361.1 459.3,361.2 460.3,361.3 461.3,361.4 462.3,361.5 463.3,361.6 464.3,361.7 465.3,361.8 466.3,362.0 467.3,362.1 468.3,362.2 469.3,362.3 470.3,362.4 471.3,362.5 472.3,362.6 473.3,362.7 474.3,362.8 475.3,362.9 476.3,363.0 477.3,363.1 478.2,363.1 479.2,363.2 480.2,363.3 481.2,363.4 482.2,363.4 483.2,363.5 484.2,363.6 485.2,363.6 486.2,363.7 487.2,363.8 488.2,363.8 489.2,363.9 490.2,364.0 491.2,364.1 492.2,364.2 493.2,364.3 493.2,364.3" stroke="#f26a50" stroke-width="1.9"/>
<path d="M50.0,364.1 51.0,364.1 52.0,364.1 53.0,364.1 54.0,364.1 55.0,364.1 56.0,364.1 57.0,364.0 58.0,364.0 59.0,364.0 60.0,364.0 61.0,364.0 62.0,364.0 63.0,364.0 64.0,364.0 65.0,364.0 66.0,364.0 67.0,364.0 68.0,364.0 69.0,363.9 70.0,363.9 71.0,363.9 72.0,363.9 73.0,363.9 74.0,363.9 75.0,363.9 76.0,363.9 77.0,363.9 78.0,363.9 79.0,363.9 80.0,363.9 81.0,363.8 82.0,363.8 83.0,363.8 84.0,363.8 85.0,363.8 86.0,363.8 87.0,363.8 88.0,363.8 89.0,363.8 90.0,363.7 91.0,363.7 92.0,363.7 93.0,363.7 94.0,363.7 95.0,363.7 96.0,363.7 97.0,363.6 98.0,363.6 99.0,363.6 100.0,363.6 101.0,363.6 102.0,363.6 103.0,363.5 104.0,363.5 105.0,363.5 106.0,363.5 107.0,363.5 108.0,363.4 109.0,363.4 110.0,363.4 111.0,363.4 112.0,363.4 113.0,363.4 114.0,363.3 115.0,363.3 116.0,363.3 117.0,363.3 118.0,363.2 119.0,363.2 120.0,363.2 121.0,363.2 122.0,363.2 123.0,363.1 124.0,363.1 125.0,363.1 126.0,363.1 127.0,363.0 128.0,363.0 129.0,363.0 130.0,362.9 131.0,362.9 132.0,362.9 133.0,362.8 134.0,362.8 135.0,362.8 136.0,362.7 137.0,362.7 138.0,362.7 139.0,362.6 140.0,362.6 141.0,362.5 142.0,362.5 143.0,362.5 144.0,362.4 145.0,362.3 146.0,362.3 147.0,362.2 148.0,362.2 149.0,362.1 150.0,362.0 151.0,362.0 152.0,361.9 153.0,361.8 154.0,361.7 155.0,361.7 155.9,361.6 156.9,361.5 157.9,361.4 158.9,361.3 159.9,361.2 160.9,361.1 161.9,361.0 162.9,360.9 163.9,360.8 164.9,360.6 165.9,360.5 166.9,360.4 167.9,360.3 168.9,360.1 169.8,360.0 170.8,359.8 171.8,359.7 172.8,359.5 173.8,359.4 174.8,359.2 175.8,359.0 176.7,358.8 177.7,358.6 178.7,358.4 179.7,358.2 180.6,357.9 181.6,357.7 182.6,357.4 183.5,357.2 184.5,356.9 185.5,356.7 186.4,356.4 187.4,356.1 188.3,355.8 189.3,355.5 190.2,355.2 191.2,354.8 192.1,354.5 193.0,354.1 193.9,353.8 194.9,353.4 195.8,353.0 196.7,352.6 197.6,352.2 198.5,351.7 199.4,351.3 200.3,350.9 201.2,350.4 202.0,349.9 202.9,349.4 203.8,349.0 204.6,348.5 205.5,347.9 206.3,347.4 207.2,346.9 208.0,346.3 208.8,345.8 209.7,345.2 210.5,344.6 211.2,344.0 212.0,343.4 212.8,342.8 213.6,342.1 214.3,341.5 215.1,340.8 215.8,340.2 216.6,339.5 217.3,338.8 218.0,338.2 218.8,337.5 219.5,336.8 220.2,336.1 220.9,335.4 221.6,334.7 222.3,333.9 223.0,333.2 223.7,332.5 224.3,331.8 225.0,331.0 225.7,330.3 226.3,329.5 227.0,328.8 227.6,328.0 228.3,327.2 228.9,326.5 229.6,325.7 230.2,324.9 230.8,324.1 231.4,323.4 232.1,322.6 232.7,321.8 233.3,321.0 233.9,320.2 234.5,319.4 235.1,318.7 235.8,317.9 236.4,317.1 237.0,316.3 237.6,315.5 238.2,314.7 238.8,313.9 239.3,313.0 239.9,312.2 240.5,311.4 241.1,310.6 241.7,309.8 242.3,309.0 242.8,308.2 243.4,307.3 243.9,306.5 244.5,305.7 245.0,304.8 245.6,304.0 246.1,303.2 246.6,302.3 247.1,301.4 247.6,300.6 248.1,299.7 248.6,298.8 249.0,297.9 249.5,297.1 249.9,296.2 250.3,295.3 250.7,294.3 251.1,293.4 251.5,292.5 251.9,291.6 252.3,290.7 252.7,289.7 253.0,288.8 253.4,287.9 253.7,286.9 254.1,286.0 254.4,285.0 254.7,284.1 255.1,283.2 255.4,282.2 255.7,281.3 256.1,280.3 256.4,279.4 256.7,278.4 257.1,277.5 257.4,276.6 257.7,275.6 258.1,274.7 258.5,273.8 258.8,272.8 259.2,271.9 259.6,271.0 260.0,270.1 260.4,269.1 260.8,268.2 261.1,267.3 261.5,266.4 261.9,265.4 262.3,264.5 262.7,263.6 263.0,262.7 263.4,261.7 263.7,260.8 264.2,259.9 264.7,259.0 265.3,258.3 266.0,257.6 266.8,256.9 267.6,256.3 268.5,255.8 269.3,255.3 270.2,254.8 271.1,254.3 271.9,253.8 272.8,253.3 273.6,252.7 274.4,252.1 275.1,251.4 275.8,250.6 276.4,249.9 277.0,249.1 277.6,248.2 278.0,247.4 278.5,246.4 278.9,245.5 279.3,244.6 279.6,243.7 279.9,242.7 280.3,241.8 280.5,240.8 280.8,239.9 281.2,238.9 281.6,238.0 282.0,237.1 282.5,236.2 283.0,235.4 283.5,234.5 284.0,233.6 284.5,232.8 285.1,232.0 285.8,231.3 286.7,230.8 287.7,230.9 288.6,231.3 289.4,231.8 290.3,232.4 291.1,233.0 291.9,233.6 292.7,234.2 293.7,234.3 294.6,234.0 295.4,233.4 296.2,232.8 296.9,232.1 297.6,231.3 298.3,230.6 299.0,229.9 299.7,229.2 300.4,228.5 301.3,228.3 302.0,229.0 302.5,229.9 302.8,230.8 303.2,231.7 303.6,232.6 304.0,233.6 304.4,234.5 304.8,235.4 305.1,236.3 305.5,237.3 305.9,238.2 306.3,239.1 306.7,240.0 307.2,240.9 307.7,241.7 308.4,242.5 309.1,243.1 310.1,243.2 311.1,242.9 312.1,243.0 312.8,243.7 313.3,244.6 313.8,245.4 314.3,246.3 314.7,247.2 315.1,248.2 315.5,249.1 315.9,250.0 316.2,251.0 316.4,251.9 316.6,252.9 316.8,253.9 317.0,254.9 317.3,255.8 317.6,256.8 317.8,257.7 318.1,258.7 318.4,259.7 318.7,260.6 319.0,261.6 319.4,262.5 319.8,263.4 320.4,264.2 321.0,265.0 321.6,265.8 322.4,266.5 323.1,267.2 323.6,268.0 324.0,268.9 324.4,269.8 324.8,270.8 325.0,271.7 325.3,272.7 325.5,273.7 325.7,274.7 326.0,275.6 326.2,276.6 326.4,277.6 326.6,278.6 326.7,279.6 326.9,280.5 327.2,281.5 327.4,282.5 327.7,283.4 328.0,284.4 328.3,285.3 328.6,286.3 329.0,287.2 329.3,288.2 329.6,289.1 330.0,290.1 330.4,291.0 330.7,291.9 331.1,292.8 331.5,293.8 331.9,294.7 332.2,295.6 332.6,296.6 332.9,297.5 333.3,298.4 333.6,299.4 333.9,300.3 334.2,301.3 334.5,302.2 334.8,303.2 335.1,304.2 335.4,305.1 335.8,306.0 336.1,307.0 336.5,307.9 336.8,308.8 337.2,309.8 337.6,310.7 338.0,311.6 338.4,312.5 338.8,313.4 339.2,314.3 339.7,315.2 340.1,316.1 340.6,317.0 341.0,317.9 341.5,318.8 342.0,319.7 342.4,320.6 342.9,321.4 343.4,322.3 343.8,323.2 344.2,324.1 344.6,325.1 344.9,326.0 345.2,327.0 345.6,327.9 345.9,328.8 346.3,329.8 346.8,330.6 347.3,331.5 348.0,332.2 348.6,333.0 349.3,333.8 349.9,334.5 350.6,335.2 351.4,335.9 352.3,336.3 353.3,336.6 354.2,336.8 355.2,337.2 356.1,337.5 357.1,337.7 358.1,337.6 359.0,337.4 360.0,337.1 360.9,336.8 361.9,336.5 362.8,336.1 363.8,335.7 364.7,335.4 365.6,335.0 366.5,334.6 367.5,334.3 368.4,334.0 369.4,333.8 370.4,333.6 371.4,333.5 372.4,333.5 373.4,333.8 374.3,334.1 375.2,334.5 376.1,335.0 377.0,335.4 377.8,335.9 378.7,336.5 379.5,337.1 380.3,337.7 381.1,338.3 381.8,339.0 382.5,339.7 383.2,340.4 383.9,341.1 384.6,341.8 385.3,342.5 386.0,343.2 386.8,343.9 387.6,344.5 388.4,345.1 389.2,345.7 390.1,346.2 390.9,346.7 391.8,347.1 392.7,347.5 393.7,347.9 394.6,348.3 395.5,348.6 396.5,348.8 397.5,349.0 398.5,349.2 399.5,349.2 400.5,349.3 401.5,349.3 402.5,349.1 403.4,348.9 404.4,348.8 405.4,348.9 406.4,349.2 407.3,349.5 408.2,350.0 409.1,350.5 409.9,351.0 410.7,351.6 411.6,352.2 412.4,352.6 413.4,353.0 414.3,353.2 415.3,353.3 416.3,353.3 417.3,353.4 418.3,353.6 419.3,353.8 420.3,354.1 421.2,354.4 422.2,354.6 423.1,354.9 424.1,355.2 425.1,355.3 426.1,355.5 427.1,355.6 428.1,355.6 429.1,355.7 430.1,355.6 431.1,355.5 432.0,355.3 433.0,355.1 434.0,355.0 435.0,355.1 436.0,355.3 436.9,355.7 437.8,356.0 438.8,356.3 439.8,356.6 440.7,356.9 441.7,357.1 442.7,357.3 443.7,357.4 444.7,357.5 445.7,357.5 446.7,357.5 447.7,357.6 448.7,357.7 449.7,357.8 450.7,357.9 451.6,358.1 452.6,358.3 453.6,358.4 454.6,358.6 455.6,358.8 456.6,358.9 457.6,359.0 458.6,359.1 459.5,359.2 460.5,359.3 461.5,359.4 462.5,359.5 463.5,359.6 464.5,359.8 465.5,359.9 466.5,360.0 467.5,360.1 468.5,360.2 469.5,360.3 470.5,360.4 471.5,360.5 472.5,360.6 473.5,360.7 474.5,360.8 475.5,360.9 476.5,361.0 477.5,361.1 478.4,361.2 479.4,361.2 480.4,361.3 481.4,361.4 482.4,361.4 483.4,361.5 484.4,361.6 485.4,361.7 486.4,361.7 487.4,361.8 488.4,361.9 489.4,361.9 490.4,362.0 491.4,362.1 492.4,362.2 493.4,362.3 493.4,362.3" stroke="#72c8a6" stroke-width="1.9"/>
<path d="M50.0,364.9 51.0,364.9 52.0,364.9 53.0,364.9 54.0,364.9 55.0,364.8 56.0,364.8 57.0,364.8 58.0,364.8 59.0,364.8 60.0,364.8 61.0,364.8 62.0,364.8 63.0,364.8 64.0,364.7 65.0,364.7 66.0,364.7 67.0,364.7 68.0,364.7 69.0,364.7 70.0,364.7 71.0,364.7 72.0,364.7 73.0,364.7 74.0,364.6 75.0,364.6 76.0,364.6 77.0,364.6 78.0,364.6 79.0,364.6 80.0,364.6 81.0,364.6 82.0,364.5 83.0,364.5 84.0,364.5 85.0,364.5 86.0,364.5 87.0,364.5 88.0,364.5 89.0,364.5 90.0,364.4 91.0,364.4 92.0,364.4 93.0,364.4 94.0,364.4 95.0,364.4 96.0,364.4 97.0,364.3 98.0,364.3 99.0,364.3 100.0,364.3 101.0,364.3 102.0,364.3 103.0,364.2 104.0,364.2 105.0,364.2 106.0,364.2 107.0,364.2 108.0,364.2 109.0,364.1 110.0,364.1 111.0,364.1 112.0,364.1 113.0,364.1 114.0,364.0 115.0,364.0 116.0,364.0 117.0,364.0 118.0,363.9 119.0,363.9 120.0,363.9 121.0,363.9 122.0,363.9 123.0,363.8 124.0,363.8 125.0,363.8 126.0,363.8 127.0,363.7 128.0,363.7 129.0,363.7 130.0,363.7 131.0,363.7 132.0,363.6 133.0,363.6 134.0,363.6 135.0,363.6 136.0,363.5 137.0,363.5 138.0,363.5 139.0,363.5 140.0,363.4 141.0,363.4 142.0,363.4 143.0,363.4 144.0,363.3 145.0,363.3 146.0,363.3 147.0,363.2 148.0,363.2 149.0,363.2 150.0,363.2 151.0,363.1 152.0,363.1 153.0,363.1 154.0,363.1 155.0,363.0 156.0,363.0 157.0,363.0 158.0,362.9 159.0,362.9 160.0,362.9 161.0,362.8 162.0,362.8 163.0,362.8 164.0,362.7 165.0,362.7 166.0,362.7 167.0,362.6 168.0,362.6 169.0,362.5 170.0,362.5 171.0,362.4 172.0,362.4 173.0,362.3 174.0,362.2 175.0,362.1 175.9,362.1 176.9,362.0 177.9,361.9 178.9,361.7 179.9,361.6 180.9,361.5 181.9,361.3 182.9,361.2 183.9,361.0 184.8,360.8 185.8,360.6 186.8,360.4 187.8,360.2 188.8,360.0 189.7,359.8 190.7,359.6 191.7,359.4 192.7,359.2 193.6,359.0 194.6,358.7 195.6,358.5 196.5,358.3 197.5,358.0 198.5,357.8 199.4,357.5 200.4,357.2 201.4,357.0 202.3,356.7 203.3,356.4 204.2,356.1 205.2,355.7 206.1,355.4 207.0,355.0 208.0,354.7 208.9,354.3 209.8,353.9 210.7,353.5 211.6,353.1 212.5,352.7 213.4,352.2 214.3,351.8 215.2,351.3 216.0,350.8 216.9,350.3 217.7,349.8 218.6,349.3 219.4,348.7 220.2,348.1 221.0,347.6 221.8,347.0 222.6,346.4 223.4,345.8 224.2,345.2 225.0,344.6 225.8,343.9 226.6,343.3 227.3,342.7 228.1,342.1 228.9,341.4 229.6,340.8 230.4,340.1 231.2,339.5 231.9,338.8 232.7,338.1 233.4,337.5 234.1,336.8 234.9,336.1 235.6,335.4 236.3,334.7 237.0,334.1 237.8,333.4 238.5,332.7 239.2,332.0 239.9,331.2 240.6,330.5 241.3,329.8 242.0,329.1 242.6,328.4 243.3,327.6 244.0,326.9 244.7,326.1 245.3,325.4 246.0,324.6 246.6,323.9 247.3,323.1 247.9,322.4 248.5,321.6 249.2,320.8 249.8,320.0 250.4,319.2 251.0,318.5 251.6,317.7 252.2,316.9 252.8,316.1 253.4,315.2 254.0,314.4 254.6,313.6 255.1,312.8 255.7,312.0 256.3,311.2 256.8,310.3 257.4,309.5 257.9,308.7 258.5,307.8 259.0,307.0 259.6,306.1 260.1,305.3 260.6,304.4 261.1,303.6 261.7,302.7 262.2,301.9 262.7,301.0 263.2,300.2 263.6,299.3 264.0,298.4 264.4,297.4 264.8,296.5 265.2,295.6 265.6,294.6 265.9,293.7 266.2,292.8 266.6,291.8 266.9,290.9 267.3,290.0 267.6,289.0 268.0,288.1 268.4,287.2 268.7,286.2 269.1,285.3 269.5,284.4 269.9,283.5 270.3,282.6 270.8,281.7 271.2,280.8 271.7,279.9 272.2,279.0 272.7,278.2 273.2,277.3 273.8,276.5 274.4,275.7 275.0,274.9 275.7,274.2 276.5,273.6 277.3,273.0 278.1,272.4 279.0,271.9 279.9,271.6 280.9,271.2 281.8,270.9 282.7,270.4 283.5,269.8 284.3,269.2 285.1,268.6 285.8,267.9 286.5,267.2 287.1,266.4 287.7,265.6 288.2,264.7 288.6,263.8 289.1,262.9 289.5,262.0 289.9,261.1 290.3,260.2 290.8,259.3 291.3,258.4 291.8,257.5 292.3,256.7 292.8,255.8 293.3,255.0 293.8,254.1 294.4,253.3 294.9,252.5 295.6,251.7 296.4,251.1 297.3,250.8 298.2,251.0 299.1,251.5 299.9,252.1 300.8,252.7 301.6,253.3 302.5,253.7 303.4,254.1 304.4,254.2 305.3,254.0 306.2,253.4 307.0,252.8 307.7,252.1 308.3,251.3 308.9,250.6 309.6,249.8 310.3,249.1 311.2,249.2 312.0,249.8 312.6,250.6 313.2,251.4 313.6,252.3 314.1,253.2 314.5,254.1 315.0,255.0 315.4,255.9 315.9,256.8 316.3,257.7 316.8,258.6 317.2,259.5 317.7,260.3 318.4,261.0 319.4,261.0 320.4,261.2 321.4,261.5 322.4,261.7 323.2,262.2 323.9,262.9 324.5,263.7 325.1,264.5 325.6,265.4 326.0,266.3 326.4,267.2 326.7,268.2 327.1,269.1 327.4,270.0 327.8,271.0 328.1,271.9 328.4,272.9 328.8,273.8 329.1,274.8 329.4,275.7 329.7,276.7 330.0,277.6 330.4,278.5 330.8,279.4 331.5,280.2 332.3,280.8 333.0,281.5 333.7,282.2 334.3,283.0 334.8,283.9 335.2,284.8 335.6,285.7 335.9,286.7 336.2,287.6 336.5,288.6 336.8,289.5 337.1,290.5 337.4,291.4 337.7,292.4 338.0,293.4 338.3,294.3 338.5,295.3 338.8,296.2 339.1,297.2 339.4,298.1 339.7,299.1 340.0,300.1 340.2,301.0 340.5,302.0 340.8,302.9 341.1,303.9 341.6,304.8 342.2,305.6 342.8,306.4 343.4,307.2 344.0,308.0 344.4,308.9 344.7,309.9 345.0,310.8 345.2,311.8 345.5,312.8 345.7,313.7 345.9,314.7 346.2,315.7 346.4,316.6 346.7,317.6 346.9,318.6 347.2,319.5 347.4,320.5 347.7,321.5 347.9,322.4 348.2,323.4 348.5,324.4 348.7,325.3 349.0,326.3 349.3,327.2 349.6,328.2 349.9,329.1 350.3,330.1 350.6,331.0 351.0,332.0 351.4,332.9 351.8,333.8 352.2,334.7 352.7,335.5 353.4,336.3 354.3,336.8 355.2,337.1 356.2,337.2 357.2,337.3 358.2,337.3 359.2,337.4 360.1,337.8 360.7,338.7 361.0,339.6 361.2,340.6 361.7,341.4 362.5,341.1 363.2,340.3 363.8,339.6 364.7,339.2 365.5,339.8 366.1,340.6 366.6,341.5 367.3,342.3 368.0,342.9 369.0,343.1 369.8,342.6 370.4,341.8 370.9,341.0 371.6,340.3 372.4,339.6 373.2,339.1 374.2,338.7 375.1,338.5 376.1,338.4 377.1,338.4 378.1,338.4 379.1,338.4 380.1,338.5 381.1,338.6 382.1,338.7 383.1,338.8 384.1,339.0 385.1,339.3 386.0,339.6 386.9,340.1 387.8,340.6 388.6,341.1 389.4,341.7 390.2,342.3 391.0,343.0 391.7,343.6 392.4,344.3 393.2,344.9 394.0,345.6 394.7,346.2 395.5,346.9 396.3,347.5 397.1,348.1 397.9,348.7 398.7,349.3 399.5,349.8 400.5,350.2 401.4,350.5 402.4,350.7 403.4,350.8 404.4,350.9 405.4,351.0 406.4,351.1 407.4,351.1 408.4,351.1 409.4,351.1 410.4,351.1 411.4,351.2 412.4,351.2 413.4,351.3 414.4,351.4 415.4,351.6 416.3,351.8 417.3,352.2 418.1,352.7 419.0,353.2 419.9,353.6 420.8,354.0 421.8,354.3 422.7,354.6 423.7,354.9 424.6,355.1 425.6,355.4 426.6,355.6 427.6,355.7 428.6,355.8 429.6,355.9 430.6,355.9 431.6,355.8 432.6,355.7 433.6,355.6 434.6,355.6 435.5,355.8 436.5,356.2 437.4,356.5 438.4,356.8 439.3,357.1 440.3,357.3 441.3,357.6 442.2,357.8 443.2,357.9 444.2,358.0 445.2,358.1 446.2,358.1 447.2,358.2 448.2,358.2 449.2,358.3 450.2,358.4 451.2,358.6 452.2,358.8 453.2,359.0 454.1,359.1 455.1,359.3 456.1,359.4 457.1,359.6 458.1,359.7 459.1,359.8 460.1,359.9 461.1,360.0 462.1,360.1 463.1,360.2 464.1,360.3 465.1,360.4 466.1,360.5 467.1,360.6 468.1,360.7 469.0,360.9 470.0,361.0 471.0,361.1 472.0,361.2 473.0,361.3 474.0,361.4 475.0,361.5 476.0,361.6 477.0,361.6 478.0,361.7 479.0,361.8 480.0,361.9 481.0,361.9 482.0,362.0 483.0,362.1 484.0,362.2 485.0,362.2 486.0,362.3 487.0,362.4 488.0,362.4 489.0,362.5 490.0,362.6 491.0,362.7 492.0,362.8 493.0,362.8 493.5,362.9" stroke="#4558a8" stroke-width="1.9"/>
</g>
<path d="M94.53,366.6v-3M94.53,9.0v3.6M120.58,366.6v-3M120.58,9.0v3.6M139.06,366.6v-3M139.06,9.0v3.6M153.40,366.6v-3M153.40,9.0v3.6M165.11,366.6v-3M165.11,9.0v3.6M175.02,366.6v-3M175.02,9.0v3.6M183.60,366.6v-3M183.60,9.0v3.6M191.16,366.6v-3M191.16,9.0v3.6M197.93,366.6v-6M197.93,9.0v7.0M242.47,366.6v-3M242.47,9.0v3.6M268.52,366.6v-3M268.52,9.0v3.6M287.00,366.6v-3M287.00,9.0v3.6M301.33,366.6v-3M301.33,9.0v3.6M313.05,366.6v-3M313.05,9.0v3.6M322.95,366.6v-3M322.95,9.0v3.6M331.53,366.6v-3M331.53,9.0v3.6M339.10,366.6v-3M339.10,9.0v3.6M345.87,366.6v-6M345.87,9.0v7.0M390.40,366.6v-3M390.40,9.0v3.6M416.45,366.6v-3M416.45,9.0v3.6M434.93,366.6v-3M434.93,9.0v3.6M449.27,366.6v-3M449.27,9.0v3.6M460.98,366.6v-3M460.98,9.0v3.6M470.88,366.6v-3M470.88,9.0v3.6M479.46,366.6v-3M479.46,9.0v3.6M487.03,366.6v-3M487.03,9.0v3.6M50.0,307.00h-4M493.8,307.00h-4M50.0,247.40h6M493.8,247.40h-7.4M50.0,187.80h-4M493.8,187.80h-4M50.0,128.20h6M493.8,128.20h-7.4M50.0,68.60h-4M493.8,68.60h-4" stroke="#000" stroke-width="1.6" fill="none"/>
<rect x="50.0" y="9.0" width="443.8" height="357.6" fill="none" stroke="#000" stroke-width="1.9"/>
<rect x="377.2" y="12.5" width="111.8" height="139.7" fill="#fff" stroke="#959595" stroke-width="1.2"/>
<path d="M379.3,25.50H422" stroke="#000000" stroke-width="2.0"/>
<text x="426.2" y="31.90" font-size="18.5">340nm</text>
<path d="M379.3,48.35H422" stroke="#f00000" stroke-width="1.9"/>
<text x="426.2" y="54.75" font-size="18.5">440nm</text>
<path d="M379.3,71.20H422" stroke="#0000f0" stroke-width="1.9"/>
<text x="426.2" y="77.60" font-size="18.5">500nm</text>
<path d="M379.3,94.05H422" stroke="#f26a50" stroke-width="1.9"/>
<text x="426.2" y="100.45" font-size="18.5">670nm</text>
<path d="M379.3,116.90H422" stroke="#72c8a6" stroke-width="1.9"/>
<text x="426.2" y="123.30" font-size="18.5">870nm</text>
<path d="M379.3,139.75H422" stroke="#4558a8" stroke-width="1.9"/>
<text x="426.2" y="146.15" font-size="18.5">1020nm</text>
<text x="42" y="372.80" font-size="18" text-anchor="end">0</text>
<text x="42" y="253.60" font-size="18" text-anchor="end">5</text>
<text x="42" y="134.40" font-size="18" text-anchor="end">10</text>
<text x="42" y="15.20" font-size="18" text-anchor="end">15</text>
<text x="49.40" y="388.6" font-size="18" text-anchor="middle">0.01</text>
<text x="197.33" y="388.6" font-size="18" text-anchor="middle">0.1</text>
<text x="345.27" y="388.6" font-size="18" text-anchor="middle">1</text>
<text x="493.20" y="388.6" font-size="18" text-anchor="middle">10</text>
<text x="272" y="419.8" font-size="19" font-weight="bold" text-anchor="middle">r</text>
<text transform="translate(16.6,190.1) rotate(-90)" font-size="18.5" font-weight="bold" text-anchor="middle">Kernel Function</text>
</svg>
</body></html>
